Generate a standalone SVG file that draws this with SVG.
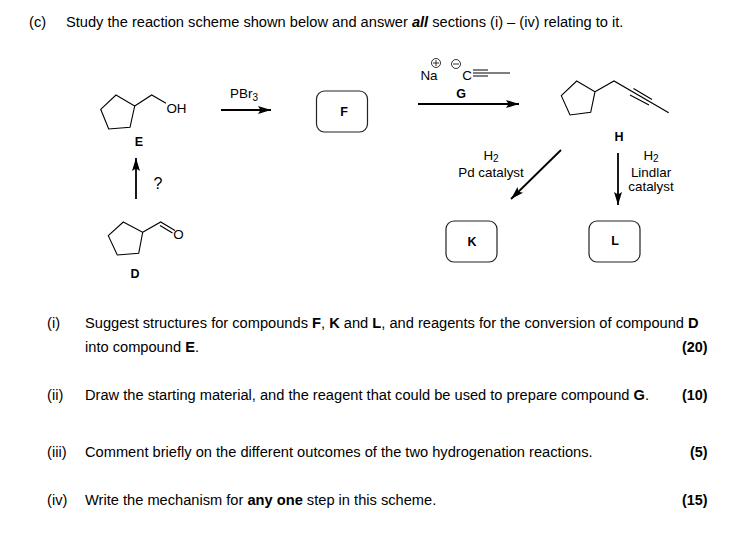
<svg xmlns="http://www.w3.org/2000/svg" width="730" height="558" viewBox="0 0 730 558">
<defs>
<marker id="ah" markerUnits="userSpaceOnUse" markerWidth="14" markerHeight="10" refX="13" refY="5" orient="auto"><path d="M0 1 L13 5 L0 9 L2.500 5 Z" fill="#000"/></marker>
</defs>
<style>
text{font-family:"Liberation Sans",Arial,sans-serif;fill:#000}
.t{font-size:14.65px}
.b{font-weight:bold}
.n{font-size:14.400px}
.l{font-size:12.500px;font-weight:bold;text-anchor:middle}
.s{font-size:13.400px;text-anchor:middle}
.sub{font-size:10px}
.bond{fill:none;stroke:#000;stroke-width:1.1}
.box{fill:#fff;stroke:#222;stroke-width:1.2}
.ar{stroke:#000;stroke-width:1.8;fill:none;marker-end:url(#ah)}
.ch{fill:none;stroke:#000;stroke-width:.8}
</style>
<rect width="730" height="558" fill="#fff"/>
<g id="question">
<text class="t" x="29" y="27">(c)</text>
<text class="t" x="66" y="27">Study the reaction scheme shown below and answer <tspan class="b" font-style="italic">all</tspan> sections (i) – (iv) relating to it.</text>
</g>
<g id="connectors">
<path class="ar" d="M221 110 H271"/>
<path class="ar" d="M418 104 H519"/>
<path class="ar" d="M136 199 V158"/>
<path class="ar" d="M561 150 L511 199"/>
<path class="ar" d="M618 153 V205"/>
</g>
<g id="node-E">
<path class="bond" d="M116 95 L134.700 106 L130 127.300 L108.700 129 L100.700 109.300 Z M134.700 106 L151.700 95 L166 103.300"/>
<text class="s" x="176.500" y="113">OH</text>
<text class="l" x="139" y="146">E</text>
</g>
<g id="label-question"><text class="s" x="158" y="189" style="font-size:16px">?</text></g>
<g id="node-D">
<path class="bond" d="M123.300 222 L142.700 232.300 L138.700 253.300 L117.300 255 L108.300 235.700 Z M142.700 232.300 L160.700 222 L175 230.500 M160 225.500 L172.500 233"/>
<text class="s" x="178.500" y="239">O</text>
<text class="l" x="135" y="278">D</text>
</g>
<g id="label-PBr3"><text class="s" x="244" y="98">PBr<tspan class="sub" dy="3">3</tspan></text></g>
<g id="node-F">
<rect class="box" x="316.500" y="91" width="51" height="41" rx="8"/>
<text class="l" x="344" y="116">F</text>
</g>
<g id="reagent-G">
<circle class="ch" cx="436" cy="63" r="4.500"/><path class="ch" d="M433 63 H439 M436 60 V66"/>
<circle class="ch" cx="456" cy="64" r="4.500"/><path class="ch" d="M453 64 H459"/>
<text class="s" x="429" y="80">Na</text>
<text class="s" x="467" y="80">C</text>
<path class="bond" d="M473 70 H488 M473 73 H510 M473 76 H488"/>
<text class="l" x="461" y="98">G</text>
</g>
<g id="node-H">
<path class="bond" d="M576.700 81 L595 91.700 L590.700 112.300 L570 115 L561.300 95.700 Z M595 91.700 L614 81 L668.700 112.700 M633.500 88.500 L652 99.500 M630 95 L649 105"/>
<text class="l" x="619" y="141">H</text>
</g>
<g id="label-Pd">
<text class="s" x="491" y="160">H<tspan class="sub" dy="2">2</tspan></text>
<text class="s" x="491" y="176.500">Pd catalyst</text>
</g>
<g id="label-Lindlar">
<text class="s" x="651" y="160">H<tspan class="sub" dy="2">2</tspan></text>
<text class="s" x="651" y="177">Lindlar</text>
<text class="s" x="651" y="191">catalyst</text>
</g>
<g id="node-K">
<rect class="box" x="446" y="221" width="51" height="41" rx="8"/>
<text class="l" x="472" y="246">K</text>
</g>
<g id="node-L">
<rect class="box" x="589" y="221" width="51" height="41" rx="8"/>
<text class="l" x="615" y="245">L</text>
</g>
<g id="parts">
<text class="t" x="47" y="328">(i)</text>
<text class="t" x="85" y="328">Suggest structures for compounds <tspan class="b">F</tspan>, <tspan class="b">K</tspan> and <tspan class="b">L</tspan>, and reagents for the conversion of compound <tspan class="b">D</tspan></text>
<text class="t" x="85" y="352">into compound <tspan class="b">E</tspan>.</text>
<text class="n b" x="682" y="352">(20)</text>
<text class="t" x="47" y="400">(ii)</text>
<text class="t" x="85" y="400">Draw the starting material, and the reagent that could be used to prepare compound <tspan class="b">G</tspan>.</text>
<text class="n b" x="682" y="400">(10)</text>
<text class="t" x="47" y="457">(iii)</text>
<text class="t" x="85" y="457">Comment briefly on the different outcomes of the two hydrogenation reactions.</text>
<text class="n b" x="690" y="457">(5)</text>
<text class="t" x="47" y="505">(iv)</text>
<text class="t" x="85" y="505">Write the mechanism for <tspan class="b">any one</tspan> step in this scheme.</text>
<text class="n b" x="682" y="505">(15)</text>
</g>
</svg>
